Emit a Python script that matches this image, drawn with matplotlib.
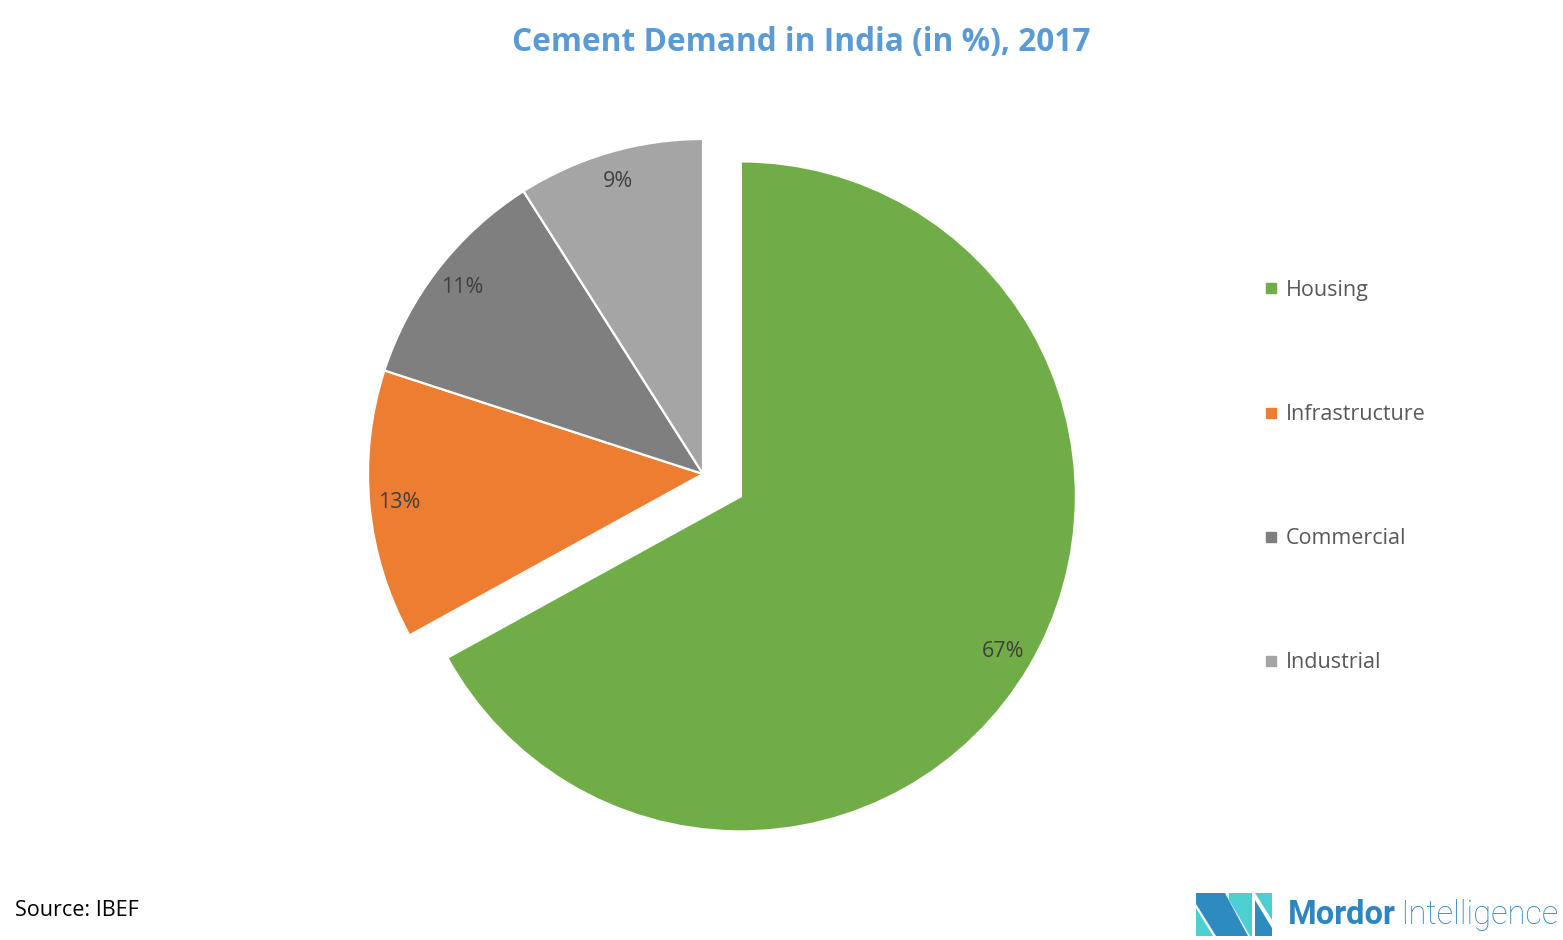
import matplotlib.pyplot as plt
import matplotlib.patches as patches
from matplotlib.lines import Line2D

# --- data ---
segments = ["Housing", "Infrastructure", "Commercial", "Industrial"]
shares = [67, 13, 11, 9]
seg_colors = ['#70AD47', '#ED7D31', '#7F7F7F', '#A5A5A5']
explode_px = [44, 0, 0, 0]

title_color = '#5B9BD5'
label_color = '#404040'
legend_color = '#595959'

W, H = 1563, 940
fig = plt.figure(figsize=(W / 100, H / 100), dpi=100)
ax = fig.add_axes([0, 0, 1, 1])

# pie drawn in pixel-like data units (y up)
wedges, texts, autotexts = ax.pie(
    shares, colors=seg_colors, explode=explode_px, startangle=90,
    counterclock=False, radius=335, center=(703, H - 474),
    autopct='%1.0f%%', pctdistance=0.91,
    wedgeprops=dict(edgecolor='white', linewidth=1.6),
    textprops=dict(color=label_color, fontsize=15.5, family='Open Sans'))

ax.set_xlim(0, W)
ax.set_ylim(0, H)
ax.set_aspect('equal')
ax.axis('off')

# title
fig.text(801 / W, 1 - 42 / H, "Cement Demand in India (in %), 2017",
         ha='center', va='center', fontsize=22.8, fontweight='bold',
         color=title_color, family='Open Sans')

# legend
handles = [Line2D([], [], marker='s', linestyle='none', markersize=7,
                  markerfacecolor=c, markeredgecolor=c) for c in seg_colors]
leg = ax.legend(handles, segments, loc='upper left',
                bbox_to_anchor=(1265 / W, 1 - 280 / H), frameon=False,
                prop=dict(family='Open Sans', size=15.5), labelcolor=legend_color,
                labelspacing=4.79, handlelength=0.6, handletextpad=0.35,
                borderpad=0, borderaxespad=0)

# source
fig.text(15 / W, 1 - 911 / H, "Source: IBEF", ha='left', va='center',
         fontsize=15.5, color='black', family='Open Sans')

# logo
blue, teal = '#2E8BC0', '#4DCFD1'
def px(pts):
    return [(x, H - y) for x, y in pts]
logo = [
    (teal, [(1196, 908), (1196, 936), (1213, 936)]),
    (blue, [(1196, 893), (1225, 893), (1248, 936), (1216, 936), (1196, 904)]),
    (teal, [(1229, 893), (1252, 893), (1252, 936), (1250, 936), (1229, 900)]),
    (teal, [(1255, 893), (1272, 893), (1272, 920)]),
    (blue, [(1255, 900), (1272, 928), (1272, 936), (1255, 936)]),
]
for col, pts in logo:
    ax.add_patch(patches.Polygon(px(pts), closed=True, facecolor=col, edgecolor='none'))

t1 = fig.text(1288 / W, 1 - 915 / H, "Mordor", ha='left', va='center',
              fontsize=23.5, fontweight='bold', color='#2E86C1', family='Roboto')
fig.canvas.draw()
bb = t1.get_window_extent()
fig.text((bb.x1 + 4) / W, 1 - 915 / H, "Intelligence", ha='left', va='center',
         fontsize=23.5, fontweight='light', color='#2E86C1', family='Roboto')

fig.savefig('out.png', dpi=100, facecolor='white')
